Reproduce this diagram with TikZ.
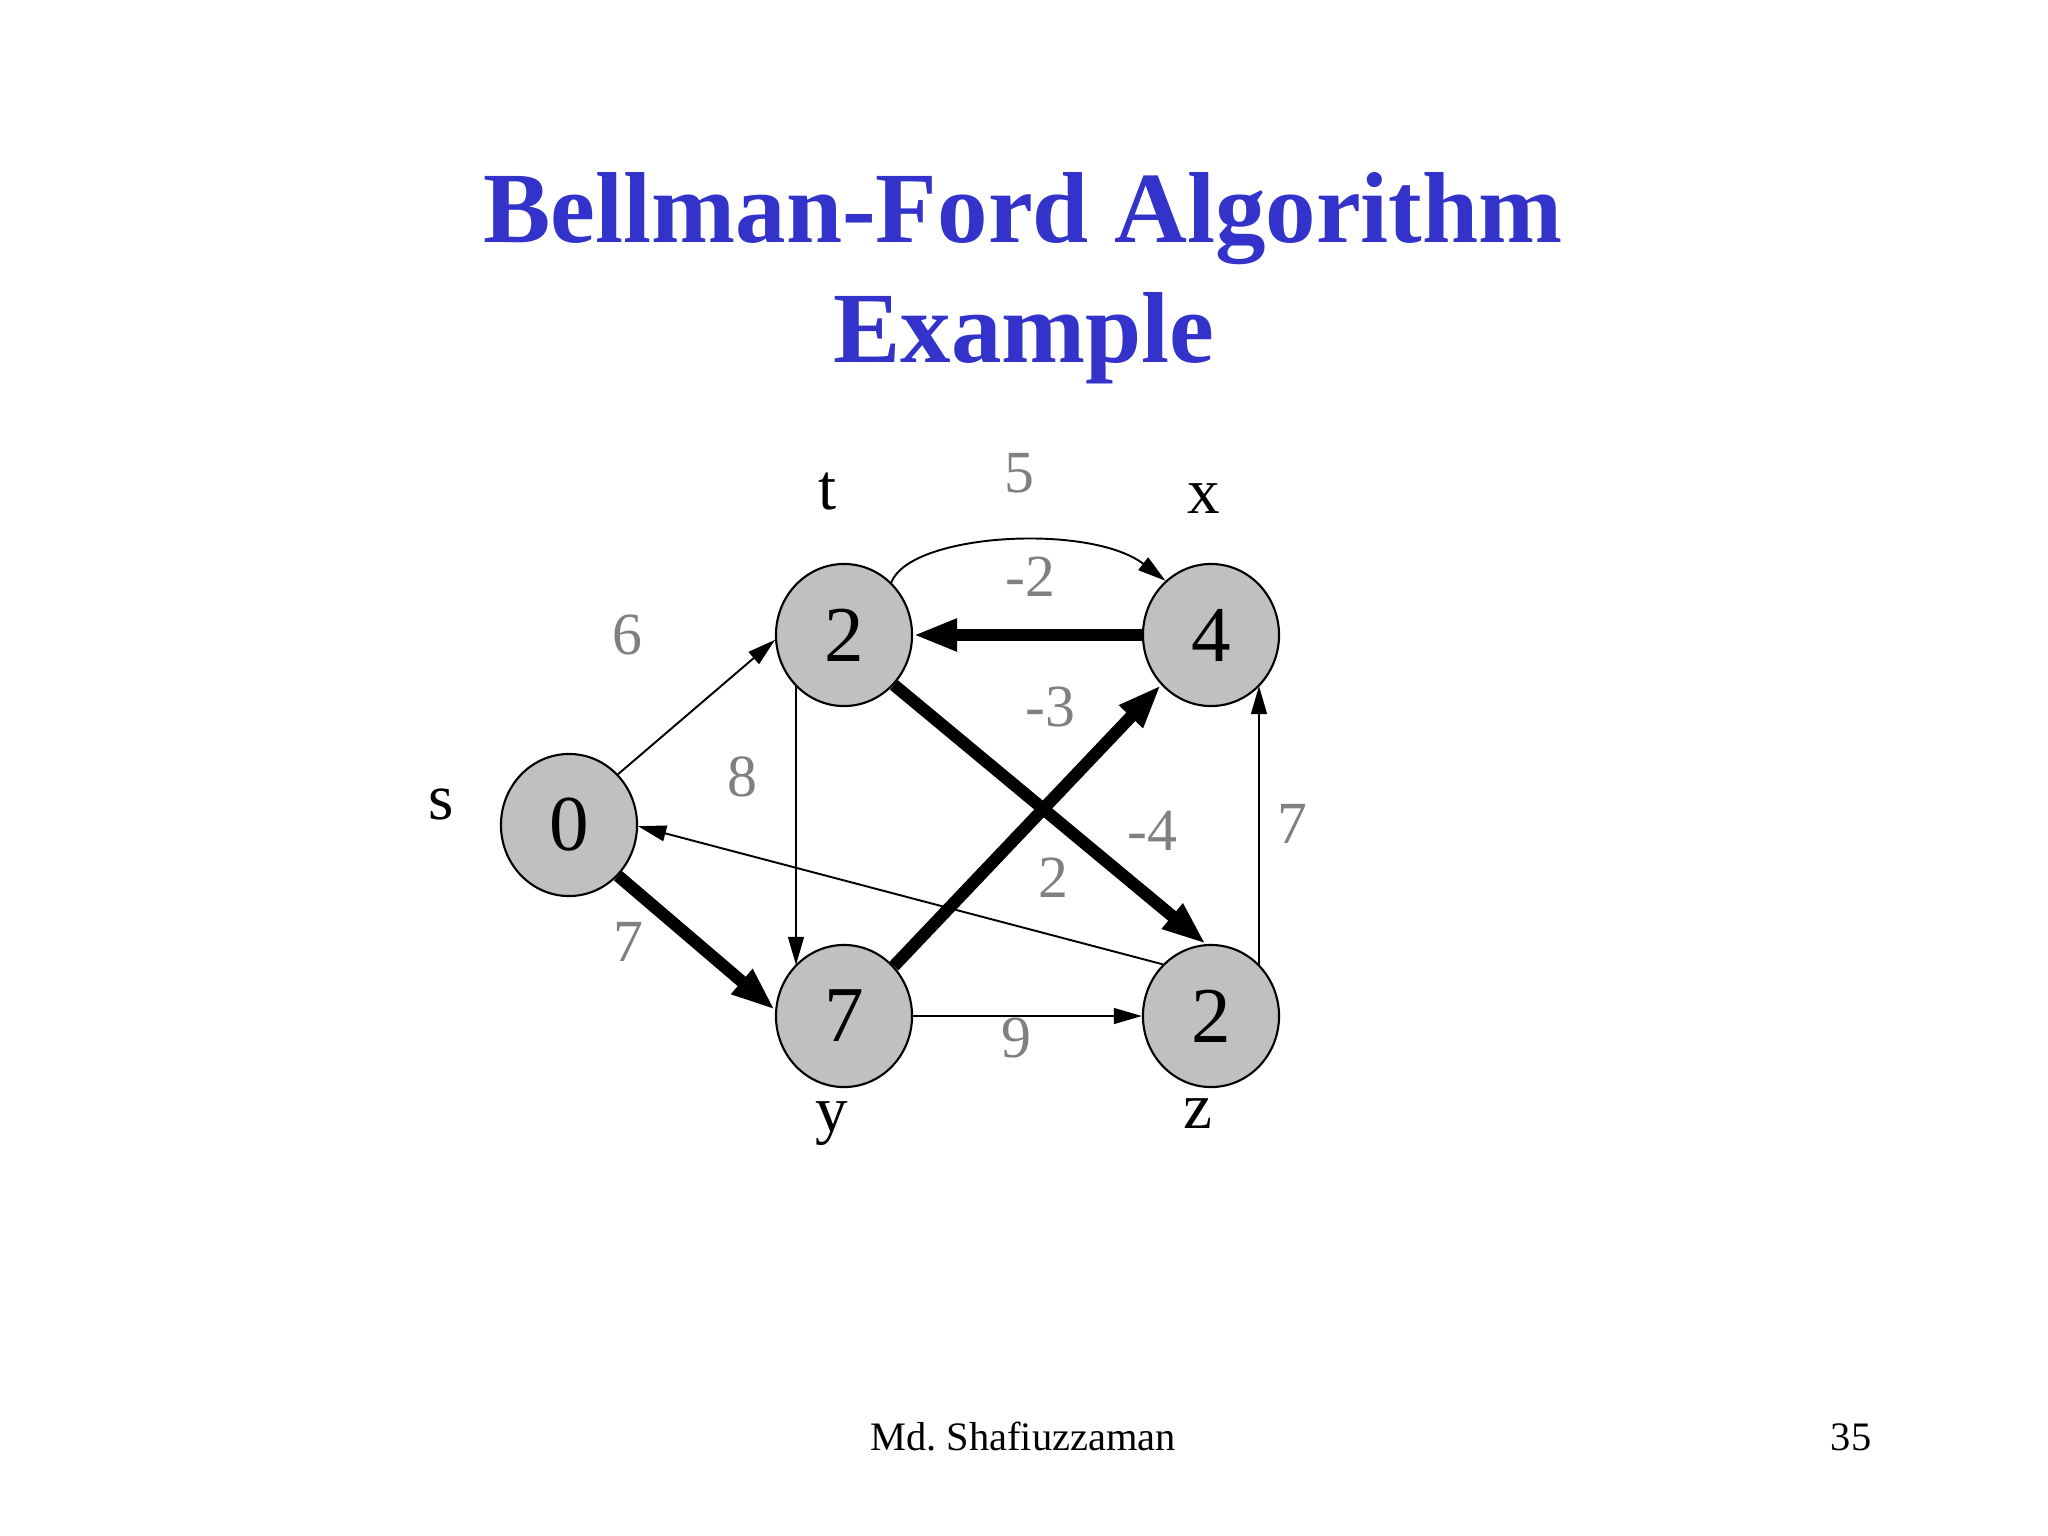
\documentclass[tikz,border=0pt]{standalone}
\usepackage{fontspec}
\setmainfont{Liberation Serif}
\usetikzlibrary{shapes.geometric,arrows.meta,calc}
\definecolor{titleblue}{RGB}{51,51,204}
\definecolor{nodegray}{RGB}{192,192,192}
\definecolor{wgray}{RGB}{128,128,128}
\begin{document}
\begin{tikzpicture}[x=0.01cm,y=-0.01cm,
  vert/.style={ellipse,draw=black,line width=0.6pt,fill=nodegray,minimum width=1.36cm,minimum height=1.42cm,inner sep=0pt,font=\fontsize{22.5}{24}\selectfont},
  vlabel/.style={inner sep=0pt,anchor=base,font=\fontsize{18.5}{20}\selectfont},
  wlabel/.style={inner sep=0pt,text=wgray,text depth=0pt,font=\fontsize{17}{19}\selectfont},
  thinedge/.style={line width=0.55pt,-{Triangle[length=8pt,width=4.5pt]}},
  thickedge/.style={line width=3.5pt,-{Triangle[length=12.5pt,width=8.5pt]}}
]
\fill[white] (0,0) rectangle (2048,1536);
\useasboundingbox (0,0) rectangle (2048,1536);
% title
\node[anchor=base,inner sep=0pt,text=titleblue,font=\fontsize{28.7}{32}\selectfont\bfseries] (title1) at (1023,242) {Bellman-Ford Algorithm};
\node[anchor=base,inner sep=0pt,text=titleblue,font=\fontsize{28.7}{32}\selectfont\bfseries] (title2) at (1024,362) {Example};
% vertices
\node[vert] (s) at (569,825) {0};
\node[vert] (t) at (844,635) {2};
\node[vert] (x) at (1211,635) {4};
\node[vert] (y) at (844,1016) {7};
\node[vert] (z) at (1211,1016) {2};
% vertex names
\node[vlabel] (ls) at (441,819) {s};
\node[vlabel] (lt) at (828,509) {t};
\node[vlabel] (lx) at (1204,513) {x};
\node[vlabel] (ly) at (832,1131) {y};
\node[vlabel] (lz) at (1198,1128) {z};
% edges
\draw[thinedge] (s.46) -- (t.184);
\draw[thickedge] (s.-46) -- (y.175);
\draw[thinedge] ($(t.center)+(-48,50)$) -- ($(y.center)+(-48,-51)$);
\draw[thinedge] (t.48) .. controls (910,533) and (1090,523) .. (x.130);
\draw[thickedge] (x.west) -- (t.east);
\draw[thickedge] (t.-45) -- (z.94);
\draw[thickedge] (y.45) -- (x.225);
\draw[thinedge] (y.east) -- (z.west);
\draw[thinedge] (z.133) -- (s.-1);
\draw[thinedge] ($(z.center)+(48,-50)$) -- ($(x.center)+(48,51)$);
% weights
\node[wlabel] (w5) at (1019,473) {5};
\node[wlabel] (wm2) at (1030,577) {-2};
\node[wlabel] (w6) at (627,635) {6};
\node[wlabel] (wm3) at (1050,707) {-3};
\node[wlabel] (w8) at (742,777) {8};
\node[wlabel] (wm4) at (1152,831) {-4};
\node[wlabel] (w7a) at (1292,824) {7};
\node[wlabel] (w2) at (1053,878) {2};
\node[wlabel] (w7b) at (628,942) {7};
\node[wlabel] (w9) at (1016,1038) {9};
% footer
\node[anchor=base,inner sep=0pt,font=\fontsize{11.5}{13}\selectfont] (author) at (1023,1450) {Md.\ Shafiuzzaman};
\node[anchor=base east,inner sep=0pt,font=\fontsize{11.5}{13}\selectfont] (page) at (1872,1450) {35};
\end{tikzpicture}
\end{document}
